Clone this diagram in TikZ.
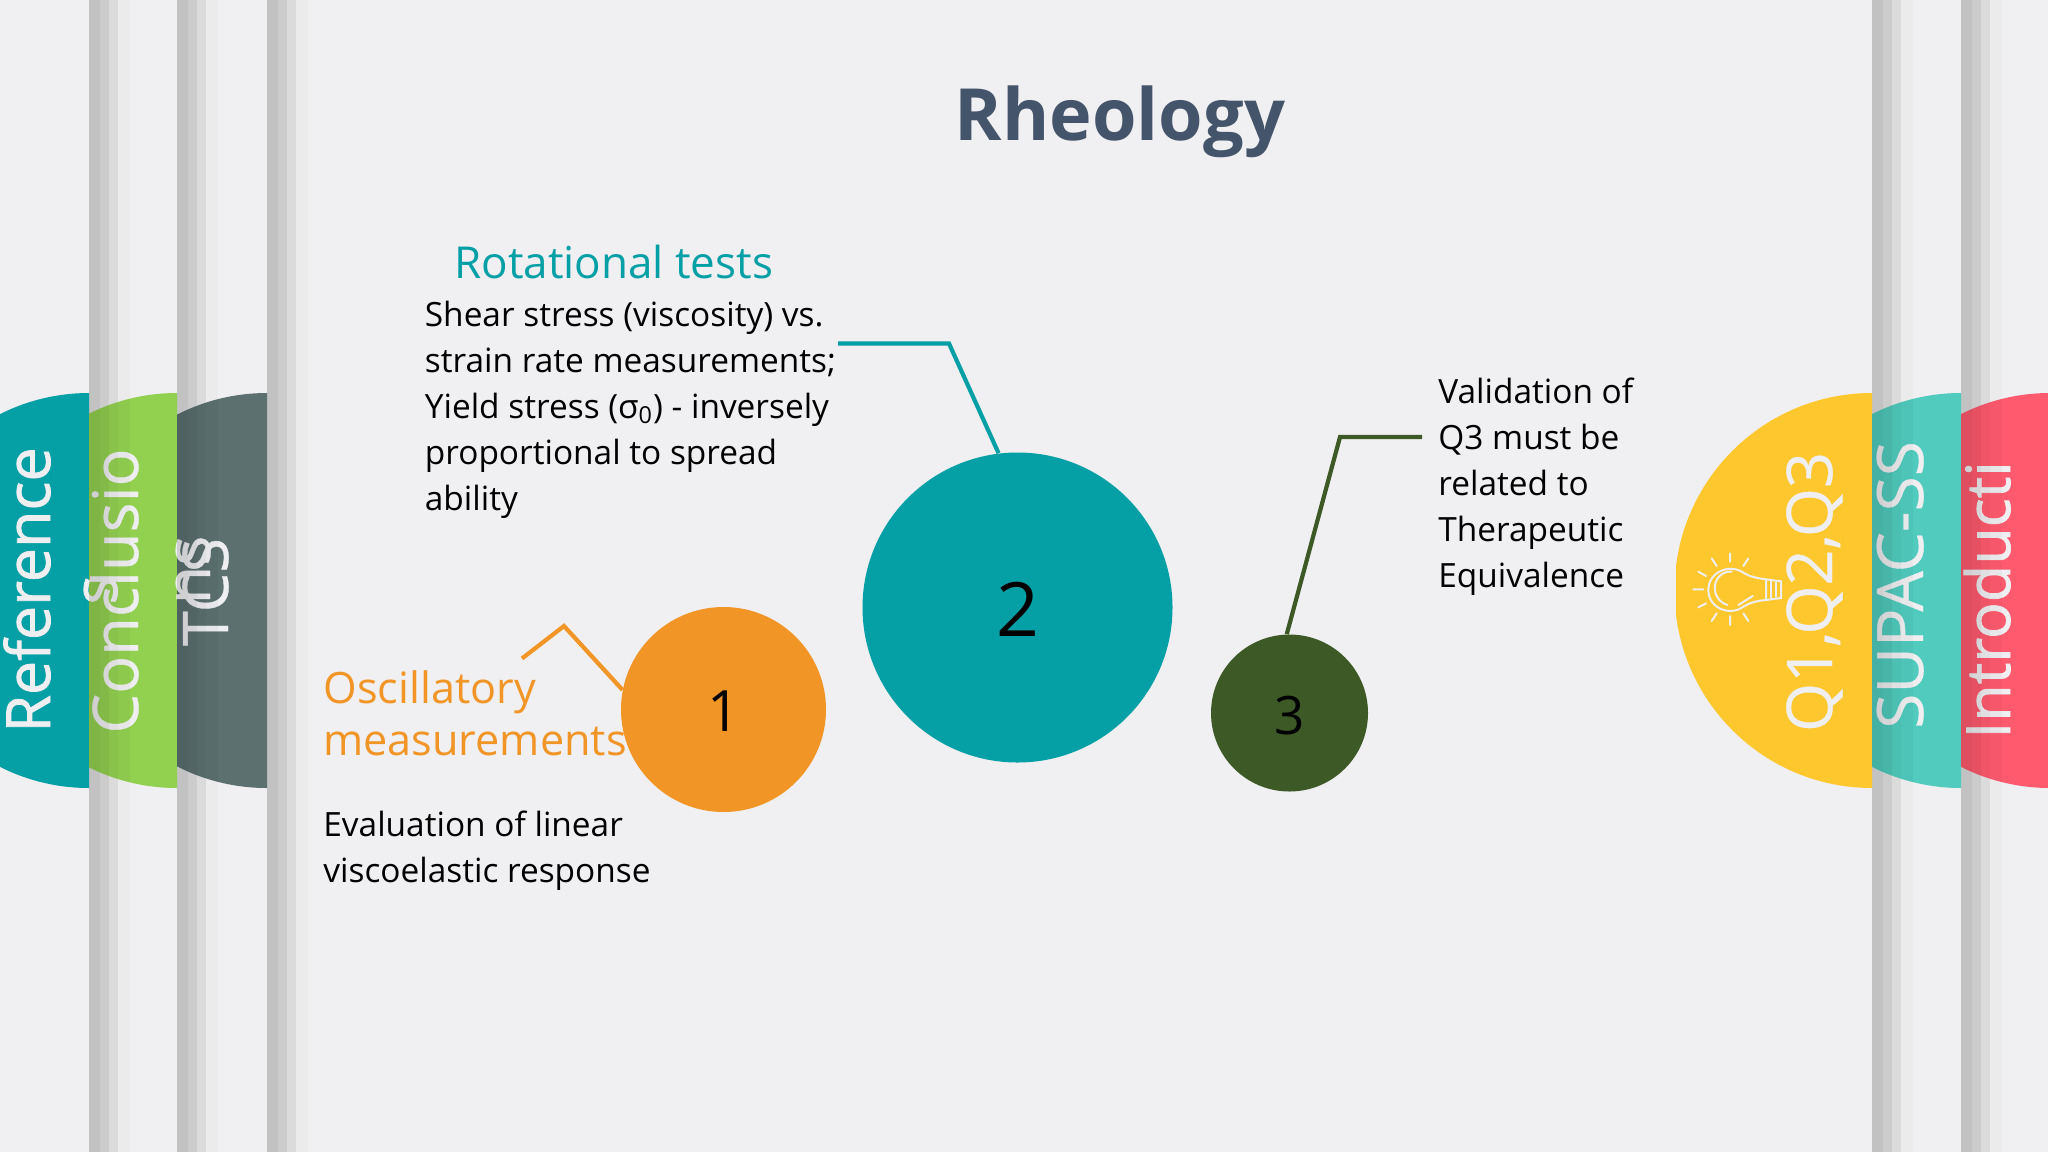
\documentclass[tikz,border=0pt]{standalone}
\usepackage{fontspec}
\setmainfont{Open Sans}
\newfontfamily\heavyfont[FakeBold=1.2]{Open Sans}
\newfontfamily\midfont[FakeBold=0.6]{Open Sans}
\definecolor{pagebg}{HTML}{F0EFF2}
\definecolor{tealc}{HTML}{04A0A5}
\definecolor{orangec}{HTML}{F09526}
\definecolor{greenc}{HTML}{3D5A26}
\definecolor{titlec}{HTML}{44546A}
\definecolor{tabtxt}{HTML}{EFEEF1}
\definecolor{tabgreen}{HTML}{92D050}
\definecolor{tabslate}{HTML}{5C7070}
\definecolor{tabyellow}{HTML}{FFC72E}
\definecolor{tabaqua}{HTML}{50CBBD}
\definecolor{tabred}{HTML}{FF5A6E}
\tikzset{
  disc/.style={circle, inner sep=0pt, text=black, text depth=0pt},
  lead/.style={line width=2.1pt, line join=miter},
  bodytxt/.style={anchor=base west, inner sep=0pt, align=left, font=\fontsize{16.7}{23}\selectfont},
  headtxt/.style={anchor=base west, inner sep=0pt, align=left, font=\fontsize{22}{26}\selectfont},
  tabtxtn/.style={rotate=90, anchor=base, inner sep=0pt, text=tabtxt, font=\midfont\fontsize{31.5}{32}\selectfont},
  tabtxtb/.style={rotate=90, anchor=base, inner sep=0pt, text=tabtxt, font=\heavyfont\fontsize{30.5}{31}\selectfont},
  bulb/.style={draw=tabtxt, line width=1pt, line cap=round, fill=none}
}
\begin{document}
\begin{tikzpicture}[x=0.5pt, y=-0.5pt]
\useasboundingbox (0,0) rectangle (2048,1152);
\fill[pagebg] (0,0) rectangle (2048,1152);
\foreach \xs in {89,177,267,1872,1961}{
  \fill[black!24] (\xs,0) rectangle ++(11,1152);
  \fill[black!20] (\xs+11,0) rectangle ++(9,1152);
  \fill[black!14] (\xs+20,0) rectangle ++(9,1152);
  \fill[black!8] (\xs+29,0) rectangle ++(12,1152);
}
\foreach \cx/\xa/\xb/\col in {89/0/89/tealc, 177/89/177/tabgreen, 267/177/267/tabslate, 1872/1676/1872/tabyellow, 1961/1872/1961/tabaqua, 2050/1961/2048/tabred}{
  \begin{scope}
    \clip (\xa,380) rectangle (\xb,800);
    \fill[\col] (\cx,590.5) circle [radius=197.5];
  \end{scope}
}
\node[tabtxtb] (tabref) at (50,590) {Reference};
\node[tabtxtb] (tabrefs) at (117,590) {s};
\node[tabtxtn] (tabcon) at (138,591) {Conclusio};
\node[tabtxtn] (tabcons) at (210,570) {ns};
\node[tabtxtn] (tabtcs) at (228,592) {TCS};
\node[tabtxtn] (tabq) at (1832,592) {Q1,Q2,Q3};
\node[tabtxtn, font=\midfont\fontsize{32}{32}\selectfont] (tabsup) at (1923,585) {SUPAC-SS};
\node[tabtxtb] (tabint) at (2010,600) {Introducti};
\foreach \cx/\xs in {177/89,267/177,1961/1872,2050/1961}{
  \begin{scope}
    \clip (\cx,590.5) circle [radius=197.5];
    \fill[black, opacity=.13] (\xs,380) rectangle ++(11,420);
    \fill[black, opacity=.1] (\xs+11,380) rectangle ++(9,420);
    \fill[black, opacity=.06] (\xs+20,380) rectangle ++(9,420);
    \fill[black, opacity=.03] (\xs+29,380) rectangle ++(12,420);
  \end{scope}
}
\begin{scope}[shift={(1680,540)}, scale=1/3]
  \draw[bulb] (258,118) .. controls (230,115) and (205,108) .. (190,98) .. controls (150,70) and (85,95) .. (85,150) .. controls (85,205) and (150,230) .. (190,200) .. controls (205,190) and (230,182) .. (258,180);
  \draw[bulb] (258,118) -- (303,124) -- (303,174) -- (258,180) -- cycle;
  \draw[bulb] (272,124) -- (272,174) (288,128) -- (288,170);
  \draw[bulb] (155,95) .. controls (125,92) and (100,120) .. (105,150) .. controls (107,175) and (125,190) .. (142,195);
  \draw[bulb] (175,195) -- (218,168);
  \draw[bulb] (150,40) -- (150,65) (95,55) -- (110,78) (55,95) -- (78,108) (40,148) -- (70,148) (55,202) -- (78,190) (95,243) -- (110,220) (150,228) -- (150,255) (190,220) -- (205,243) (190,78) -- (205,55);
\end{scope}
\node[inner sep=0pt, anchor=base, text=titlec, font=\bfseries\fontsize{36}{36}\selectfont] (title) at (1120,140) {Rheology};
\node[disc, fill=orangec, minimum size=102.5pt, text height=22.4pt, font=\fontsize{28.5}{28.5}\selectfont] (c1) at (723.5,709.5) {1};
\node[disc, fill=tealc, minimum size=155pt, text height=29pt, font=\fontsize{37.5}{37.5}\selectfont] (c2) at (1017.5,607.5) {2};
\node[disc, fill=greenc, minimum size=78.5pt, text height=21pt, font=\fontsize{26.5}{26.5}\selectfont] (c3) at (1289.5,713) {3};
\node[headtxt, text=tealc] (rothead) at (454,278) {Rotational tests};
\node[bodytxt] (rotbody) at (424.5,510) {Shear stress (viscosity) vs.\\strain rate measurements;\\Yield stress (σ\textsubscript{0}) - inversely\\proportional to spread\\ability};
\node[headtxt, text=orangec, font=\fontsize{21.6}{26}\selectfont] (oschead) at (323,755) {Oscillatory\\measurements};
\node[bodytxt] (oscbody) at (323,882) {Evaluation of linear\\viscoelastic response};
\node[bodytxt] (valbody) at (1438,587.5) {Validation of\\Q3 must be\\related to\\Therapeutic\\Equivalence};
\coordinate (rotend) at (838,343.5);
\coordinate (rotknee) at (949,343.5);
\coordinate (oscend) at (522,658.5);
\coordinate (oscknee) at (564,626);
\coordinate (valend) at (1422,437);
\coordinate (valknee) at (1340,437);
\draw[lead, tealc] (rotend) -- (rotknee) -- (c2.97);
\draw[lead, orangec] (oscend) -- (oscknee) -- (c1.169);
\draw[lead, greenc] (valend) -- (valknee) -- (c3.92);
\end{tikzpicture}
\end{document}
